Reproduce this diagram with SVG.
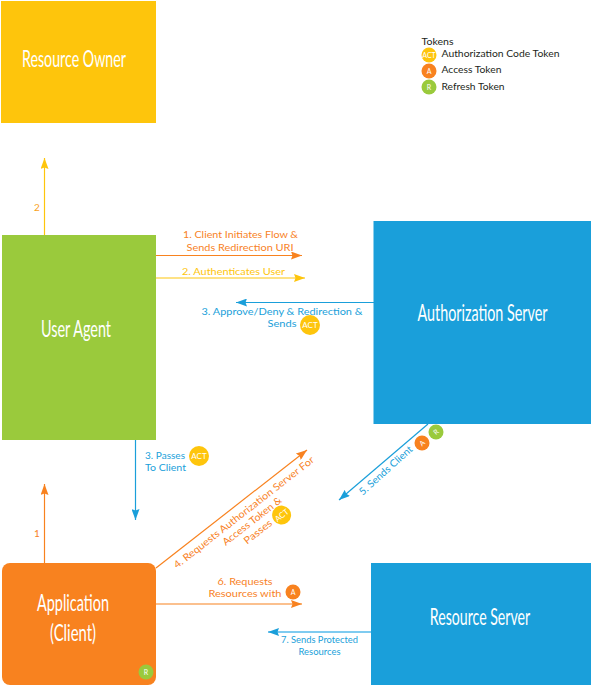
<svg xmlns="http://www.w3.org/2000/svg" width="591" height="685" viewBox="0 0 591 685">
<style>
text{font-family:Lato,"Open Sans","Liberation Sans",sans-serif}
.t{font-size:23px;fill:#fff;text-anchor:middle}
.l{font-size:10px;text-anchor:middle}
.o{fill:#f8821f}.y{fill:#fec50c}.b{fill:#1a9fda}.k{fill:#231f20;font-size:10px}
.bt{fill:#fff;text-anchor:middle;font-size:7px}
.ln{fill:none;stroke-width:1.2}
.so{stroke:#f8821f}.sy{stroke:#fec50c}.sb{stroke:#1a9fda}
</style>
<defs>
<marker id="ao" markerUnits="userSpaceOnUse" markerWidth="12" markerHeight="8" refX="11" refY="4" orient="auto"><path d="M0 0L11 4L0 8L1.5 4Z" fill="#f8821f"/></marker>
<marker id="ay" markerUnits="userSpaceOnUse" markerWidth="12" markerHeight="8" refX="11" refY="4" orient="auto"><path d="M0 0L11 4L0 8L1.5 4Z" fill="#fec50c"/></marker>
<marker id="ab" markerUnits="userSpaceOnUse" markerWidth="12" markerHeight="8" refX="11" refY="4" orient="auto"><path d="M0 0L11 4L0 8L1.5 4Z" fill="#1a9fda"/></marker>
</defs>
<g id="connectors">
<path class="ln sy" marker-end="url(#ay)" d="M44.500 235V158"/>
<path class="ln so" marker-end="url(#ao)" d="M156 255.500H302"/>
<path class="ln sy" marker-end="url(#ay)" d="M156 278H305"/>
<path class="ln sb" marker-end="url(#ab)" d="M374 302.500H236"/>
<path class="ln sb" marker-end="url(#ab)" d="M135.500 440V520"/>
<path class="ln so" marker-end="url(#ao)" d="M44.500 563V484"/>
<path class="ln so" marker-end="url(#ao)" d="M156 568L307 450"/>
<path class="ln sb" marker-end="url(#ab)" d="M428 424L339 500"/>
<path class="ln so" stroke-width="1.5" marker-end="url(#ao)" d="M156 604H302"/>
<path class="ln" style="stroke:#7fcbf0;stroke-width:2" marker-end="url(#ab)" d="M371 632H268"/>
</g>
<g id="resource-owner"><rect x="1" y="1" width="155" height="122" class="y"/><text class="t" x="74" y="67" textLength="104" lengthAdjust="spacingAndGlyphs">Resource Owner</text></g>
<g id="user-agent"><rect x="2" y="235" width="154" height="205" fill="#9aca3c"/><text class="t" x="76" y="337" textLength="70" lengthAdjust="spacingAndGlyphs">User Agent</text></g>
<g id="authorization-server"><rect x="373.500" y="221" width="217.500" height="203" class="b"/><text class="t" transform="translate(482.500 321) scale(.66 1)" textLength="197" lengthAdjust="spacingAndGlyphs">Authorization Server</text></g>
<g id="application"><rect x="2" y="563" width="154" height="122" rx="8" class="o"/><text class="t" x="73" y="611" textLength="72" lengthAdjust="spacingAndGlyphs">Application</text><text class="t" x="73" y="641" textLength="46" lengthAdjust="spacingAndGlyphs">(Client)</text><circle cx="146" cy="672" r="7.500" fill="#9aca3c"/><text class="bt" x="146" y="674.500">R</text></g>
<g id="resource-server"><rect x="371" y="563" width="220" height="122" class="b"/><text class="t" transform="translate(480 625) scale(.66 1)" textLength="152" lengthAdjust="spacingAndGlyphs">Resource Server</text></g>
<g id="legend">
<text class="k" x="421.500" y="45" textLength="32" lengthAdjust="spacingAndGlyphs">Tokens</text>
<circle cx="429" cy="55" r="7.500" class="y"/><text class="bt" x="429" y="57.500">ACT</text>
<text class="k" x="441.500" y="57" textLength="118" lengthAdjust="spacingAndGlyphs">Authorization Code Token</text>
<circle cx="429" cy="71" r="7.500" class="o"/><text class="bt" x="429" y="73.500">A</text>
<text class="k" x="441.500" y="73" textLength="60" lengthAdjust="spacingAndGlyphs">Access Token</text>
<circle cx="429" cy="87" r="7.500" fill="#9aca3c"/><text class="bt" x="429" y="89.500">R</text>
<text class="k" x="441.500" y="90" textLength="63" lengthAdjust="spacingAndGlyphs">Refresh Token</text>
</g>
<g id="labels">
<text class="l" x="37" y="211" style="fill:#f9a11b">2</text>
<text class="l o" x="37" y="537">1</text>
<text class="l o" x="240.500" y="238" textLength="115" lengthAdjust="spacingAndGlyphs">1. Client Initiates Flow &amp;</text>
<text class="l o" x="240" y="251" textLength="107" lengthAdjust="spacingAndGlyphs">Sends Redirection URI</text>
<text class="l y" x="233.500" y="275" textLength="103" lengthAdjust="spacingAndGlyphs">2. Authenticates User</text>
<text class="l b" x="282" y="315" textLength="161" lengthAdjust="spacingAndGlyphs">3. Approve/Deny &amp; Redirection &amp;</text>
<text class="l b" x="282" y="327" textLength="29" lengthAdjust="spacingAndGlyphs">Sends</text>
<circle cx="310" cy="325" r="10" class="y"/><text class="bt" x="310" y="328" style="font-size:8px">ACT</text>
<text class="l b" x="145" y="458.500" style="text-anchor:start" textLength="40" lengthAdjust="spacingAndGlyphs">3. Passes</text>
<text class="l b" x="145" y="470.500" style="text-anchor:start" textLength="41" lengthAdjust="spacingAndGlyphs">To Client</text>
<circle cx="199" cy="456" r="10" class="y"/><text class="bt" x="199" y="459" style="font-size:8px">ACT</text>
<g transform="translate(246 515) rotate(-38)">
<text class="l o" x="0" y="0" textLength="175" lengthAdjust="spacingAndGlyphs">4.  Requests Authorization Server For</text>
<text class="l o" x="1" y="12" textLength="72" lengthAdjust="spacingAndGlyphs">Access Token &amp;</text>
<text class="l o" x="-1" y="24" textLength="33" lengthAdjust="spacingAndGlyphs">Passes</text>
<circle cx="28" cy="22" r="9.500" class="y"/><text class="bt" x="28" y="25" style="font-size:8px">ACT</text>
</g>
<text class="l b" transform="translate(388 473) rotate(-42)" x="0" y="0" textLength="68" lengthAdjust="spacingAndGlyphs">5. Sends Client</text>
<circle cx="422" cy="443" r="7.500" class="o"/><text class="bt" transform="translate(422 443) rotate(-42)" y="2.500">A</text>
<circle cx="436" cy="432" r="7.500" fill="#9aca3c"/><text class="bt" transform="translate(436 432) rotate(-42)" y="2.500">R</text>
<text class="l o" x="245" y="585" textLength="55" lengthAdjust="spacingAndGlyphs">6. Requests</text>
<text class="l o" x="245" y="597" textLength="73" lengthAdjust="spacingAndGlyphs">Resources with</text>
<circle cx="293" cy="592" r="7.500" class="o"/><text class="bt" x="293" y="594.500">A</text>
<text class="l b" x="319.500" y="643" textLength="77" lengthAdjust="spacingAndGlyphs">7. Sends Protected</text>
<text class="l b" x="319.500" y="655" textLength="42" lengthAdjust="spacingAndGlyphs">Resources</text>
</g>
</svg>
